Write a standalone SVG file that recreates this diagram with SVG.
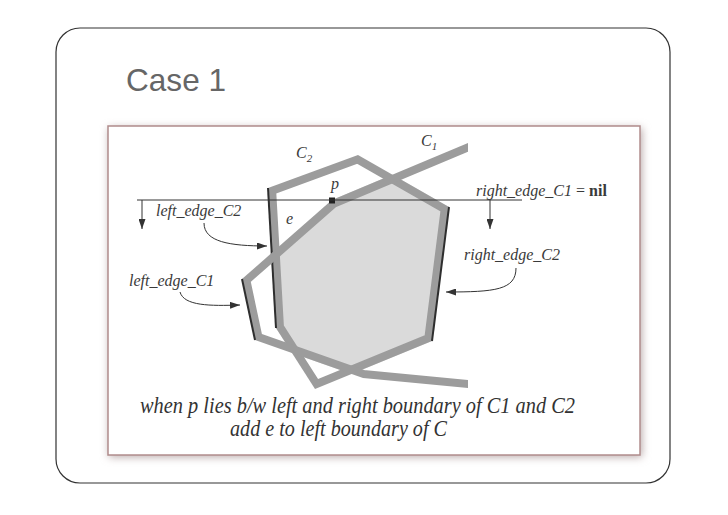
<svg xmlns="http://www.w3.org/2000/svg" width="728" height="515" viewBox="0 0 728 515">
<defs>
<style>
.lbl{font-family:"Liberation Serif",serif;font-style:italic;font-size:16px;fill:#3a3a3a}
.cap{font-family:"Liberation Serif",serif;font-style:italic;font-size:23px;fill:#333}
.band{fill:none;stroke:#9c9c9c;stroke-width:16;stroke-linejoin:miter}
.dark{stroke:#2e2e2e;stroke-width:2;fill:none}
.conn{fill:none;stroke:#333;stroke-width:1}
.arr{marker-end:url(#ah)}
</style>
<marker id="ah" viewBox="0 0 10 7" refX="10" refY="3.5" markerWidth="10" markerHeight="7" orient="auto" markerUnits="userSpaceOnUse">
<path d="M0,0 L10,3.5 L0,7 Z" fill="#333"/>
</marker>
<filter id="sh" x="-10%" y="-10%" width="120%" height="120%">
<feGaussianBlur stdDeviation="4"/>
</filter>
<clipPath id="c1clip"><polygon points="468,143 332,200 242,279 255,340 363,378 468,388"/></clipPath>
<clipPath id="c2clip"><polygon points="268,188 358,155 449,207 432,341 315,389 276,328"/></clipPath>
</defs>

<rect x="0" y="0" width="728" height="515" fill="#ffffff"/>
<rect x="56" y="28" width="614" height="455" rx="24" ry="24" fill="#ffffff" stroke="#333" stroke-width="1.2"/>
<text x="126" y="91" font-family="'Liberation Sans',Arial,sans-serif" font-size="32" fill="#666" textLength="100" lengthAdjust="spacingAndGlyphs">Case 1</text>

<g id="frame">
<rect x="109" y="128" width="533" height="329" fill="#b9a9a9" filter="url(#sh)"/>
<rect x="108" y="126" width="532" height="329" fill="#ffffff" stroke="#b08c8c" stroke-width="1.5"/>
</g>

<g id="region-C">
<polygon points="268,188 358,155 449,207 432,341 315,389 276,328" fill="#dadada" clip-path="url(#c1clip)"/>
</g>

<g id="C2">
<polygon class="band" points="268,188 358,155 449,207 432,341 315,389 276,328" clip-path="url(#c2clip)"/>
<path class="dark" d="M268,188 L276,328"/>
<path class="dark" d="M449,207 L432,341"/>
<text class="lbl" x="296" y="158">C<tspan dy="4" font-size="11">2</tspan></text>
</g>

<g id="C1">
<polyline class="band" points="478,139 332,200 242,279 255,340 363,378 478,389" clip-path="url(#c1clip)"/>
<path class="dark" d="M242,279 L255,340"/>
<text class="lbl" x="421" y="146">C<tspan dy="4" font-size="11">1</tspan></text>
</g>

<g id="p">
<rect x="329" y="197.5" width="6" height="6" fill="#222"/>
<text class="lbl" x="331" y="189">p</text>
</g>

<g id="e">
<text class="lbl" x="286" y="224">e</text>
</g>

<g id="labels">
<text class="lbl" x="156" y="216">left_edge_C2</text>
<text class="lbl" x="129" y="286">left_edge_C1</text>
<text class="lbl" x="476" y="196">right_edge_C1 <tspan font-style="normal">=</tspan> <tspan font-style="normal" font-weight="bold">nil</tspan></text>
<text class="lbl" x="464" y="260">right_edge_C2</text>
</g>

<g id="connectors">
<path class="conn" d="M137,200 H522"/>
<path class="conn arr" d="M142,200 V229"/>
<path class="conn arr" d="M490,200 V229"/>
<path class="conn arr" d="M204,223 C204,242 230,246 267,246"/>
<path class="conn arr" d="M180,292 C184,306 210,306 240,305"/>
<path class="conn arr" d="M516,268 C516,290 495,292 446,292"/>
</g>

<g id="caption">
<text class="cap" x="140" y="413" textLength="435" lengthAdjust="spacingAndGlyphs">when p lies b/w left and right boundary of C1 and C2</text>
<text class="cap" x="230" y="436" textLength="217" lengthAdjust="spacingAndGlyphs">add e to left boundary of C</text>
</g>
</svg>
